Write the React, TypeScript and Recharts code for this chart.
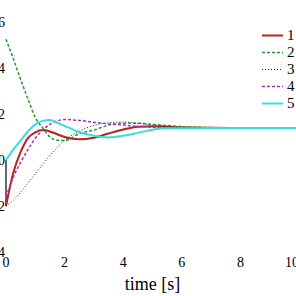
import { Line, LineChart, ReferenceLine, XAxis, YAxis } from 'recharts'

const times = [0, 0.25, 0.5, 0.75, 1, 1.25, 1.5, 1.75, 2, 2.5, 3, 3.5, 4, 4.5, 5, 5.5, 6, 7, 8, 9, 10]
const s1 = [-2, -0.55, 0.35, 0.95, 1.2, 1.3, 1.24, 1.12, 1.0, 0.9, 0.97, 1.15, 1.33, 1.45, 1.47, 1.45, 1.42, 1.4, 1.39, 1.39, 1.39]
const s2 = [5.25, 4.4, 3.5, 2.65, 1.85, 1.4, 1.0, 0.86, 0.85, 1.15, 1.3, 1.52, 1.6, 1.6, 1.55, 1.5, 1.45, 1.41, 1.39, 1.39, 1.39]
const s3 = [-2, -1.75, -1.4, -1.0, -0.6, -0.2, 0.2, 0.55, 0.85, 1.25, 1.5, 1.62, 1.65, 1.6, 1.52, 1.46, 1.42, 1.39, 1.39, 1.39, 1.39]
const s4 = [-1.6, -0.75, -0.1, 0.45, 0.95, 1.3, 1.55, 1.7, 1.76, 1.72, 1.64, 1.57, 1.52, 1.46, 1.42, 1.4, 1.39, 1.39, 1.39, 1.39, 1.39]
const s5 = [0, 0.45, 0.85, 1.25, 1.55, 1.7, 1.74, 1.62, 1.48, 1.22, 1.05, 0.98, 1.05, 1.18, 1.32, 1.38, 1.38, 1.39, 1.39, 1.39, 1.39]
const xTicks = [0, 2, 4, 6, 8, 10]
const yTicks = [-4, -2, 0, 2, 4, 6]

const series = [
  { key: 's1', name: '1', color: '#b8201e', width: 2, dash: undefined },
  { key: 's2', name: '2', color: '#1f9a2a', width: 1.5, dash: '3 2' },
  { key: 's3', name: '3', color: '#222222', width: 1, dash: '1 2' },
  { key: 's4', name: '4', color: '#a530c0', width: 1.5, dash: '3 2' },
  { key: 's5', name: '5', color: '#35dede', width: 2, dash: undefined },
]

const data = times.map((t, i) => ({ t, s1: s1[i], s2: s2[i], s3: s3[i], s4: s4[i], s5: s5[i] }))

const font = '"Liberation Serif", "DejaVu Serif", serif'

function LegendBox() {
  return (
    <div style={{ position: 'absolute', left: 262, top: 27, fontFamily: font, fontSize: 15, color: '#000' }}>
      {series.map((s) => (
        <div key={s.key} style={{ display: 'flex', alignItems: 'center', height: 17 }}>
          <svg width={22} height={17}>
            <line x1={0} x2={21} y1={8.5} y2={8.5} stroke={s.color} strokeWidth={s.width} strokeDasharray={s.dash} />
          </svg>
          <span style={{ marginLeft: 3 }}>{s.name}</span>
        </div>
      ))}
    </div>
  )
}

export default function App() {
  return (
    <div style={{ position: 'fixed', left: 0, top: 0, width: 296, height: 296, overflow: 'hidden', background: '#fff' }}>
      <div style={{ position: 'absolute', left: -24, top: 0 }}>
        <LineChart width={323} height={296} data={data} margin={{ top: 22, right: 0, left: 0, bottom: 0 }}>
          <XAxis
            dataKey="t"
            type="number"
            domain={[0, 10]}
            ticks={xTicks}
            axisLine={false}
            tickLine={false}
            tickSize={0}
            tickMargin={5}
            height={44}
            tick={{ fontSize: 14, fontFamily: font, fill: '#000' }}
            label={{ value: 'time [s]', position: 'insideBottom', offset: 6, fontSize: 18, fontFamily: font, fill: '#000' }}
          />
          <YAxis
            type="number"
            domain={[-4, 6]}
            ticks={yTicks}
            axisLine={false}
            tickLine={false}
            tickSize={0}
            tickMargin={1}
            width={30}
            tick={{ fontSize: 14, fontFamily: font, fill: '#000' }}
          />
          <ReferenceLine segment={[{ x: 0, y: 0 }, { x: 0, y: -2 }]} stroke="#000" strokeWidth={1.2} />
          {series.map((s) => (
            <Line
              key={s.key}
              dataKey={s.key}
              name={s.name}
              type="monotone"
              stroke={s.color}
              strokeWidth={s.width}
              strokeDasharray={s.dash}
              dot={false}
              isAnimationActive={false}
            />
          ))}
        </LineChart>
      </div>
      <LegendBox />
    </div>
  )
}
